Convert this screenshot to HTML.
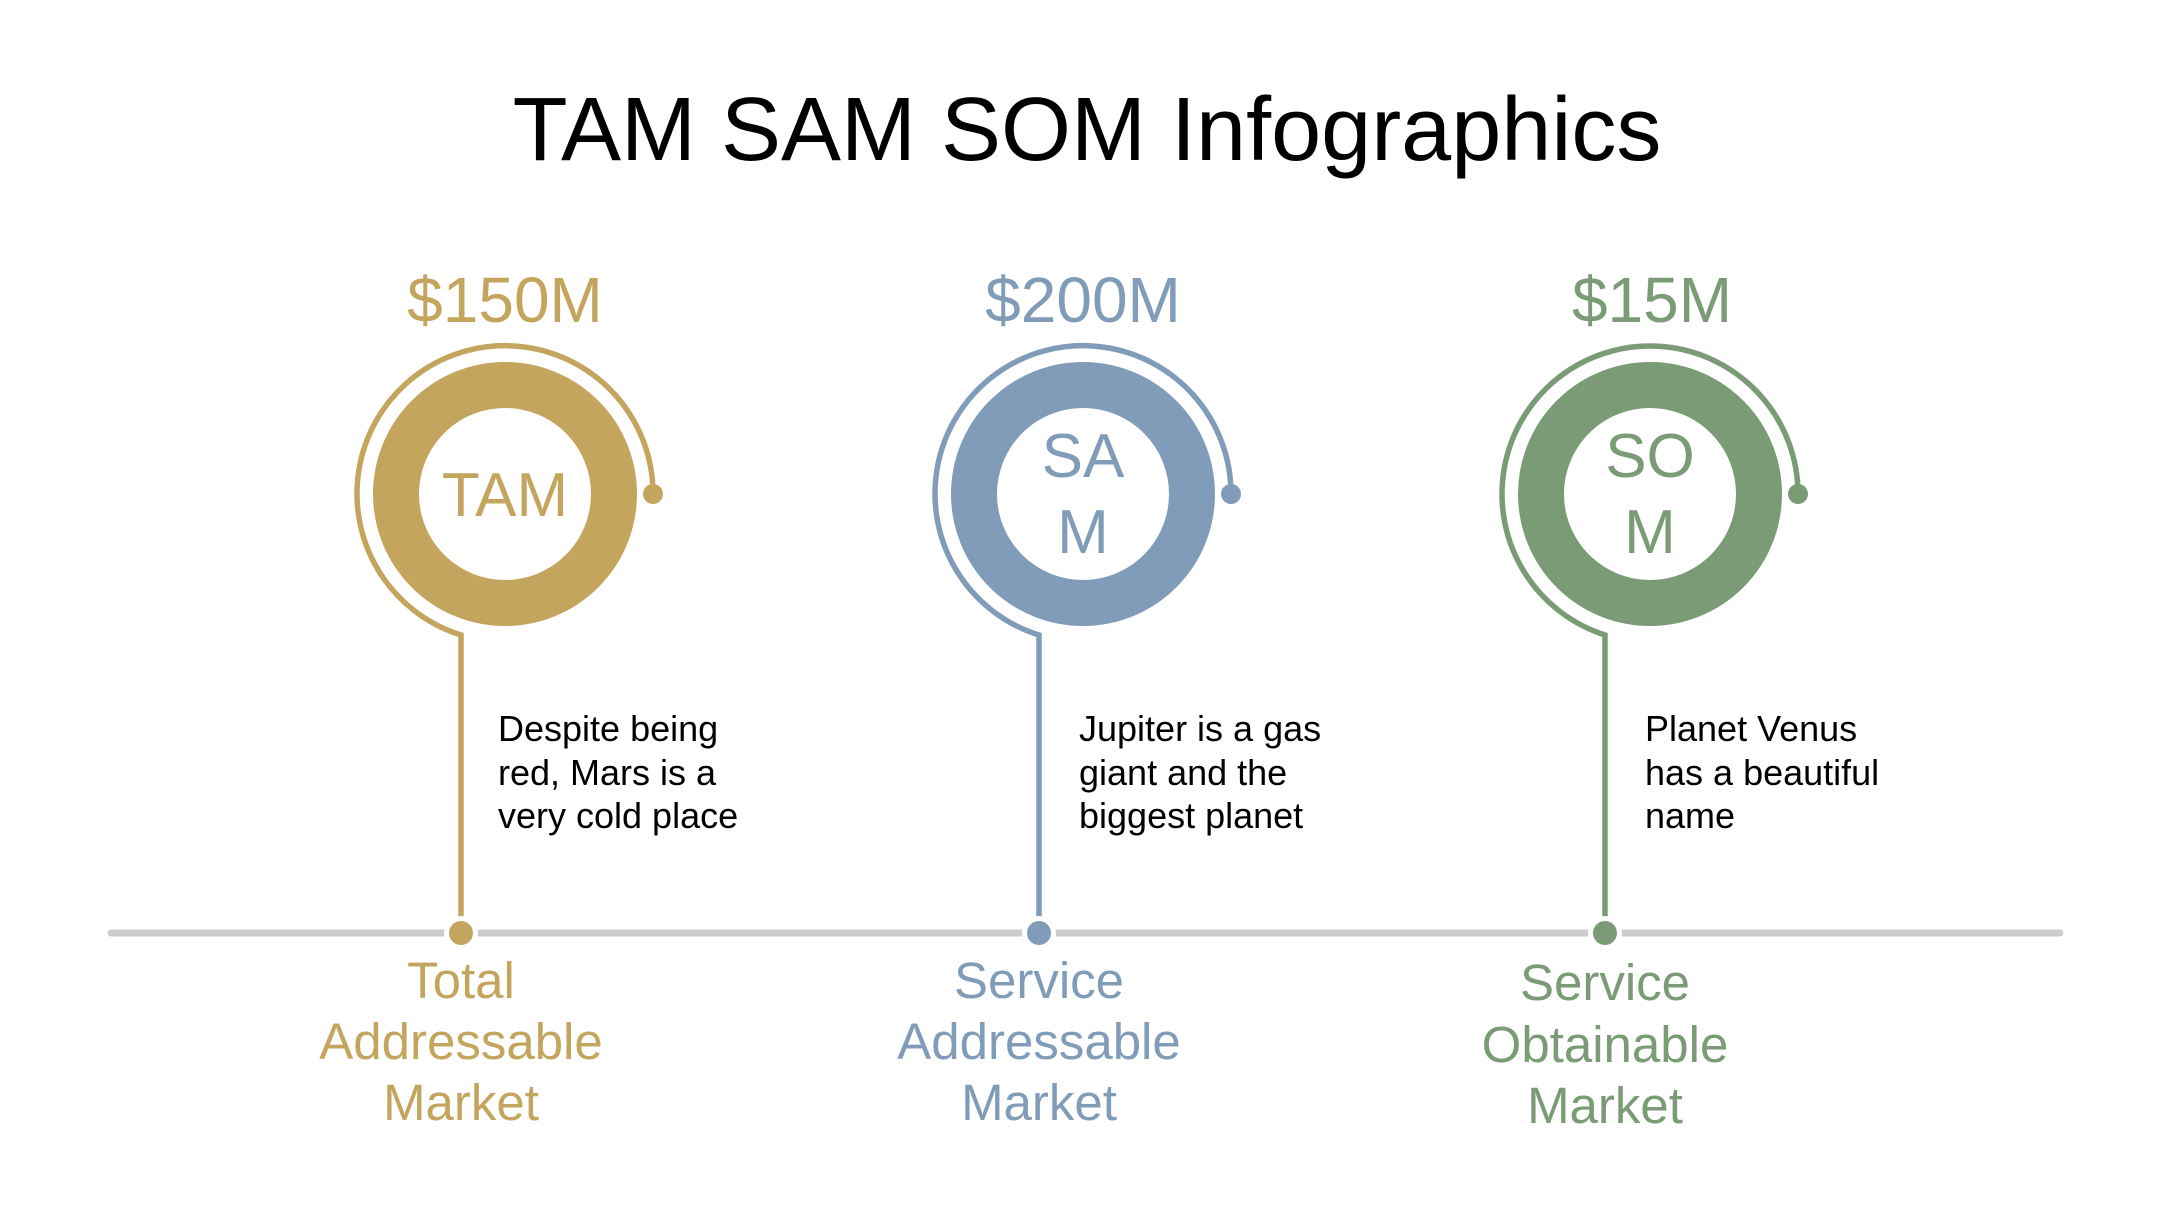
<!DOCTYPE html>
<html><head><meta charset="utf-8"><style>
html,body{margin:0;padding:0;background:#fff;}
svg{display:block;}
text{font-family:"Liberation Sans",Arial,sans-serif;}
</style></head><body>
<svg width="2160" height="1215" viewBox="0 0 2160 1215" xmlns="http://www.w3.org/2000/svg">
<rect width="2160" height="1215" fill="#fff"/>
<text x="1087" y="160" font-size="90" text-anchor="middle" fill="#000">TAM SAM SOM Infographics</text>
<line x1="111" y1="933" x2="2060" y2="933" stroke="#cccccc" stroke-width="7" stroke-linecap="round"/>

<!-- TAM -->
<g fill="#C4A55E" stroke="#C4A55E">
<text x="505" y="322" font-size="64" text-anchor="middle" stroke="none">$150M</text>
<circle cx="505" cy="494" r="109" fill="none" stroke-width="46"/>
<path d="M653 494 A148 148 0 1 0 461 635 L461 933" fill="none" stroke-width="5.5"/>
<circle cx="653" cy="494" r="10" stroke="none"/>
<circle cx="461" cy="933" r="17" fill="#fff" stroke="none"/>
<circle cx="461" cy="933" r="12" stroke="none"/>
<text x="505" y="516" font-size="62" text-anchor="middle" stroke="none">TAM</text>
<text font-size="51" text-anchor="middle" stroke="none"><tspan x="461" y="998">Total</tspan><tspan x="461" y="1059">Addressable</tspan><tspan x="461" y="1120">Market</tspan></text>
</g>
<text font-size="36" fill="#000"><tspan x="498" y="741">Despite being</tspan><tspan x="498" y="785">red, Mars is a</tspan><tspan x="498" y="828">very cold place</tspan></text>

<!-- SAM -->
<g fill="#819CB8" stroke="#819CB8">
<text x="1083" y="322" font-size="64" text-anchor="middle" stroke="none">$200M</text>
<circle cx="1083" cy="494" r="109" fill="none" stroke-width="46"/>
<path d="M1231 494 A148 148 0 1 0 1039 635 L1039 933" fill="none" stroke-width="5.5"/>
<circle cx="1231" cy="494" r="10" stroke="none"/>
<circle cx="1039" cy="933" r="17" fill="#fff" stroke="none"/>
<circle cx="1039" cy="933" r="12" stroke="none"/>
<text font-size="62" text-anchor="middle" stroke="none"><tspan x="1083" y="477">SA</tspan><tspan x="1083" y="553">M</tspan></text>
<text font-size="51" text-anchor="middle" stroke="none"><tspan x="1039" y="998">Service</tspan><tspan x="1039" y="1059">Addressable</tspan><tspan x="1039" y="1120">Market</tspan></text>
</g>
<text font-size="36" fill="#000"><tspan x="1079" y="741">Jupiter is a gas</tspan><tspan x="1079" y="785">giant and the</tspan><tspan x="1079" y="828">biggest planet</tspan></text>

<!-- SOM -->
<g fill="#7A9B76" stroke="#7A9B76">
<text x="1652" y="322" font-size="64" text-anchor="middle" stroke="none">$15M</text>
<circle cx="1650" cy="494" r="109" fill="none" stroke-width="46"/>
<path d="M1798 494 A148 148 0 1 0 1605 635 L1605 933" fill="none" stroke-width="5.5"/>
<circle cx="1798" cy="494" r="10" stroke="none"/>
<circle cx="1605" cy="933" r="17" fill="#fff" stroke="none"/>
<circle cx="1605" cy="933" r="12" stroke="none"/>
<text font-size="62" text-anchor="middle" stroke="none"><tspan x="1650" y="477">SO</tspan><tspan x="1650" y="553">M</tspan></text>
<text font-size="51" text-anchor="middle" stroke="none"><tspan x="1605" y="1000">Service</tspan><tspan x="1605" y="1062">Obtainable</tspan><tspan x="1605" y="1123">Market</tspan></text>
</g>
<text font-size="36" fill="#000"><tspan x="1645" y="741">Planet Venus</tspan><tspan x="1645" y="785">has a beautiful</tspan><tspan x="1645" y="828">name</tspan></text>
</svg>
</body></html>
